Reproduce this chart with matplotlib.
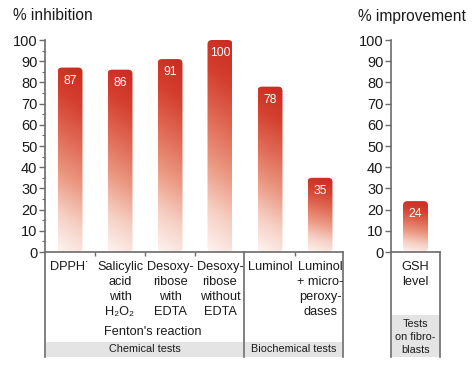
import numpy as np
import matplotlib
matplotlib.use("Agg")
import matplotlib.pyplot as plt
from matplotlib.colors import LinearSegmentedColormap
from matplotlib.patches import FancyBboxPatch, Rectangle
from matplotlib.lines import Line2D

plt.rcParams['font.family'] = ['Liberation Sans', 'DejaVu Sans']

# data
categories = ["DPPH\u02d9", "Salicylic\nacid\nwith\nH\u2082O\u2082", "Desoxy-\nribose\nwith\nEDTA",
              "Desoxy-\nribose\nwithout\nEDTA", "Luminol", "Luminol\n+ micro-\nperoxy-\ndases"]
inhibition = [87, 86, 91, 100, 78, 35]
right_categories = ["GSH\nlevel"]
improvement = [24]
yticks = list(range(0, 101, 10))

W, H = 474, 367
fig = plt.figure(figsize=(W / 100, H / 100), dpi=100)

def px_axes(x0, x1, y_top, y_bot):
    return fig.add_axes([x0 / W, (H - y_bot) / H, (x1 - x0) / W, (y_bot - y_top) / H])

cmap = LinearSegmentedColormap.from_list(
    "bar", ["#fdf3f0", "#f6cfc3", "#eb9882", "#e06a55", "#d4402f", "#c92b22"])

spine_c = "#6b6b6b"
txt_c = "#1a1a1a"

def style_axes(ax, minor=True):
    ax.set_ylim(0, 100)
    ax.set_yticks(yticks)
    if minor:
        ax.set_yticks(range(0, 101, 5), minor=True)
    ax.tick_params(axis='y', which='major', length=4, width=1, color=spine_c,
                   labelsize=10.5, pad=1.5, labelcolor=txt_c)
    ax.tick_params(axis='y', which='minor', length=2, width=0.8, color=spine_c)
    ax.tick_params(axis='x', which='both', length=3, width=1, color=spine_c, labelbottom=False)
    for s in ['top', 'right']:
        ax.spines[s].set_visible(False)
    for s in ['left', 'bottom']:
        ax.spines[s].set_color(spine_c)
        ax.spines[s].set_linewidth(1.2)

def draw_bars(ax, values, width, aspect):
    gy = np.linspace(0, 1, 256).reshape(-1, 1)
    gx = np.linspace(0, 1, 32).reshape(1, -1)
    grad = np.clip(gy * 0.92 + gx * 0.08, 0, 1)
    for i, v in enumerate(values):
        patch = FancyBboxPatch((i - width / 2, 0), width, v,
                               boxstyle="round,pad=0,rounding_size=0.09",
                               mutation_aspect=aspect, linewidth=0, facecolor='none')
        ax.add_patch(patch)
        im = ax.imshow(grad, cmap=cmap, vmin=0, vmax=1, origin='lower', aspect='auto',
                       extent=(i - width / 2, i + width / 2, 0, v), interpolation='bilinear')
        im.set_clip_path(patch)
        ax.text(i, v - 6.2, str(v), color='white', fontsize=8.8, ha='center', va='center')

def vline(ax, x, y0, y1):
    ax.add_line(Line2D([x, x], [y0, y1], transform=ax.transAxes, color=spine_c,
                       lw=1.2, clip_on=False))

def fy(y):  # pixel y -> axes fraction (both panels share vertical extent)
    return (252 - y) / 212

# left panel
ax1 = px_axes(45, 343, 40, 252)
style_axes(ax1)
x0 = (45 - 70) / 50
x1 = (343 - 70) / 50
ax1.set_xticks([0.5, 1.5, 2.5, 4.5])
draw_bars(ax1, inhibition, 0.5, 22)
ax1.set_xlim(x0, x1)
ax1.set_ylim(0, 100)

def fx1(x):
    return (x - 45) / (343 - 45)

vline(ax1, 0, fy(252), fy(357))
vline(ax1, fx1(244), fy(252), fy(357))
vline(ax1, 1, fy(252), fy(357))
ax1.add_patch(Rectangle((fx1(45.6), fy(357)), fx1(243.4) - fx1(45.6), fy(342) - fy(357),
                        transform=ax1.transAxes, facecolor="#e4e4e4", lw=0, clip_on=False))
ax1.add_patch(Rectangle((fx1(244.6), fy(357)), fx1(342.4) - fx1(244.6), fy(342) - fy(357),
                        transform=ax1.transAxes, facecolor="#e4e4e4", lw=0, clip_on=False))
tb = ax1.get_xaxis_transform()
for i, c in enumerate(categories):
    ax1.text(i, fy(261), c, transform=tb, ha='center', va='top', fontsize=9.2,
             linespacing=1.32, color=txt_c)
ax1.text(fx1(153), fy(332), "Fenton's reaction", transform=ax1.transAxes, ha='center',
         va='center', fontsize=9.2, color=txt_c)
ax1.text(fx1(144.5), fy(349.5), "Chemical tests", transform=ax1.transAxes, ha='center',
         va='center', fontsize=7.8, color=txt_c)
ax1.text(fx1(293.5), fy(349.5), "Biochemical tests", transform=ax1.transAxes, ha='center',
         va='center', fontsize=7.8, color=txt_c)
fig.text(13 / W, 1 - 16 / H, "% inhibition", fontsize=11.2, ha='left', va='center',
         color=txt_c)

# right panel
ax2 = px_axes(391, 440, 40, 252)
style_axes(ax2, minor=False)
ax2.set_xticks([])
draw_bars(ax2, improvement, 25 / 49, 22)
ax2.set_xlim(-0.5, 0.5)
ax2.set_ylim(0, 100)

def fx2(x):
    return (x - 391) / 49

vline(ax2, 0, fy(252), fy(357))
vline(ax2, 1, fy(252), fy(357))
ax2.add_patch(Rectangle((fx2(391.6), fy(357)), fx2(439.4) - fx2(391.6), fy(315) - fy(357),
                        transform=ax2.transAxes, facecolor="#e4e4e4", lw=0, clip_on=False))
ax2.text(0, fy(261), right_categories[0], transform=ax2.get_xaxis_transform(), ha='center',
         va='top', fontsize=9.2, linespacing=1.32, color=txt_c)
ax2.text(0.5, fy(337), "Tests\non fibro-\nblasts", transform=ax2.transAxes, ha='center',
         va='center', fontsize=7.8, linespacing=1.4, color=txt_c)
fig.text(358 / W, 1 - 16 / H, "% improvement", fontsize=11.2, ha='left', va='center',
         color=txt_c)

fig.savefig("out.png", dpi=100)
